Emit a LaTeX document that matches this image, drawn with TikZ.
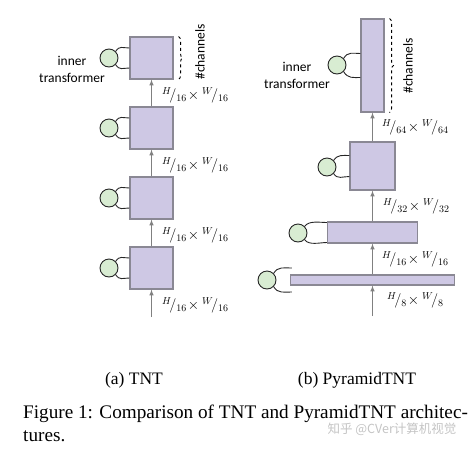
\documentclass[tikz,border=0pt]{standalone}
\usepackage{fontspec}
\setmainfont{Liberation Serif}
\newfontfamily\figsans{Carlito}
\newfontfamily\figcjk{Noto Sans CJK SC}
\usepackage{tikz}
\usetikzlibrary{arrows}
\usetikzlibrary{decorations.pathreplacing}
\usepackage{color}
\definecolor{blk-fill}{RGB}{206,200,228}
\definecolor{blk-edge}{RGB}{138,136,148}
\definecolor{itf-fill}{RGB}{216,236,210}
\definecolor{flow-gray}{RGB}{128,128,128}
\definecolor{mark-gray}{RGB}{196,196,196}
\newcommand{\reslabel}[1]{${}^{H}\!/_{#1}\!\times{}^{W}\!/_{#1}$}

\begin{document}
\begin{tikzpicture}[x=1pt, y=-1pt,
    blk/.style={draw=blk-edge, fill=blk-fill, line width=1.1pt, inner sep=0pt},
    itf/.style={draw=black!85, fill=itf-fill, circle, line width=0.9pt, minimum size=18pt, inner sep=0pt},
    loopline/.style={draw=black!85, line width=0.9pt},
    flow/.style={->, >=latex, draw=flow-gray, line width=1pt},
    dim/.style={anchor=west, inner sep=0pt, font=\fontsize{14}{16}\selectfont},
    itftext/.style={align=center, inner sep=0pt, font=\figsans\fontsize{13.5}{17}\selectfont},
    chbrace/.style={draw=black, dashed, line width=0.9pt, decorate, decoration={brace, amplitude=4pt}},
    chtext/.style={rotate=90, inner sep=0pt, font=\figsans\fontsize{13.5}{15}\selectfont},
    subcap/.style={inner sep=0pt, font=\fontsize{17.5}{20}\selectfont}]
    \useasboundingbox (0,0) rectangle (474,448);

    % (a) TNT
    \node[blk, minimum width=43, minimum height=42] (tnt1) at (151.5, 58) {};
    \node[blk, minimum width=43, minimum height=42] (tnt2) at (151.5, 128) {};
    \node[blk, minimum width=43, minimum height=42] (tnt3) at (151.5, 198) {};
    \node[blk, minimum width=43, minimum height=42] (tnt4) at (151.5, 268) {};
    \coordinate (tnt_in) at (151.5, 317);

    \node[itf] (itf_tnt1) at (109, 58) {};
    \node[itf] (itf_tnt2) at (109, 128) {};
    \node[itf] (itf_tnt3) at (109, 198) {};
    \node[itf] (itf_tnt4) at (109, 268) {};

    \node[itftext] (itf_tnt_txt) at (72, 69.5) {inner\\transformer};

    \node[dim] (res_tnt1) at (162, 95) {\reslabel{16}};
    \node[dim] (res_tnt2) at (162, 165) {\reslabel{16}};
    \node[dim] (res_tnt3) at (162, 235) {\reslabel{16}};
    \node[dim] (res_tnt4) at (162, 305) {\reslabel{16}};

    \draw[chbrace] ([xshift=5pt]tnt1.north east) -- ([xshift=5pt]tnt1.south east);
    \node[chtext] (ch_tnt) at (200, 52) {\#channels};

    % (b) PyramidTNT
    \node[blk, minimum width=23, minimum height=93] (pyr1) at (372.5, 65.5) {};
    \node[blk, minimum width=45, minimum height=48] (pyr2) at (372.5, 166) {};
    \node[blk, minimum width=90, minimum height=21] (pyr3) at (372.5, 232.5) {};
    \node[blk, minimum width=164, minimum height=10] (pyr4) at (372.5, 280) {};
    \coordinate (pyr_in) at (372.5, 316);

    \node[itf] (itf_pyr1) at (337, 65) {};
    \node[itf] (itf_pyr2) at (327, 167) {};
    \node[itf] (itf_pyr3) at (298, 233) {};
    \node[itf] (itf_pyr4) at (267, 280) {};

    \node[itftext] (itf_pyr_txt) at (297, 75.5) {inner\\transformer};

    \node[dim] (res_pyr1) at (382, 127) {\reslabel{64}};
    \node[dim] (res_pyr2) at (383, 206) {\reslabel{32}};
    \node[dim] (res_pyr3) at (382, 259) {\reslabel{16}};
    \node[dim] (res_pyr4) at (387, 300) {\reslabel{8}};

    \draw[chbrace] ([xshift=5pt]pyr1.north east) -- ([xshift=5pt]pyr1.south east);
    \node[chtext] (ch_pyr) at (408, 66) {\#channels};

    \draw[flow] (tnt_in) -- (tnt4);
    \draw[flow] (tnt4) -- (tnt3);
    \draw[flow] (tnt3) -- (tnt2);
    \draw[flow] (tnt2) -- (tnt1);

    \draw[flow] (pyr_in) -- (pyr4);
    \draw[flow] (pyr4) -- (pyr3);
    \draw[flow] (pyr3) -- (pyr2);
    \draw[flow] (pyr2) -- (pyr1);

    \draw[loopline] (itf_tnt1.45)  .. controls +(4,-6) and +(-7,0) .. ([yshift=10pt]tnt1.west);
    \draw[loopline] (itf_tnt1.-45) .. controls +(4,6)  and +(-7,0) .. ([yshift=-10pt]tnt1.west);
    \draw[loopline] (itf_tnt2.45)  .. controls +(4,-6) and +(-7,0) .. ([yshift=10pt]tnt2.west);
    \draw[loopline] (itf_tnt2.-45) .. controls +(4,6)  and +(-7,0) .. ([yshift=-10pt]tnt2.west);
    \draw[loopline] (itf_tnt3.45)  .. controls +(4,-6) and +(-7,0) .. ([yshift=10pt]tnt3.west);
    \draw[loopline] (itf_tnt3.-45) .. controls +(4,6)  and +(-7,0) .. ([yshift=-10pt]tnt3.west);
    \draw[loopline] (itf_tnt4.45)  .. controls +(4,-6) and +(-7,0) .. ([yshift=10pt]tnt4.west);
    \draw[loopline] (itf_tnt4.-45) .. controls +(4,6)  and +(-7,0) .. ([yshift=-10pt]tnt4.west);

    \draw[loopline] (itf_pyr1.45)  .. controls +(4,-7) and +(-7,0) .. ([yshift=12pt]pyr1.west);
    \draw[loopline] (itf_pyr1.-45) .. controls +(4,7)  and +(-7,0) .. ([yshift=-12pt]pyr1.west);
    \draw[loopline] (itf_pyr2.45)  .. controls +(4,-6) and +(-7,0) .. ([yshift=10.5pt]pyr2.west);
    \draw[loopline] (itf_pyr2.-45) .. controls +(4,6)  and +(-7,0) .. ([yshift=-10.5pt]pyr2.west);
    \draw[loopline] (itf_pyr3.45)  .. controls +(4,-6) and +(-7,0) .. ([yshift=10pt]pyr3.west);
    \draw[loopline] (itf_pyr3.-45) .. controls +(4,6)  and +(-7,0) .. ([yshift=-10pt]pyr3.west);
    \draw[loopline] (itf_pyr4.45)  .. controls +(4,-7) and +(-8,0) .. ([xshift=2pt, yshift=12pt]pyr4.west);
    \draw[loopline] (itf_pyr4.-45) .. controls +(4,7)  and +(-8,0) .. ([xshift=2pt, yshift=-12pt]pyr4.west);

    % captions
    \node[subcap] (cap_tnt) at (134, 380) {(a) TNT};
    \node[subcap] (cap_pyr) at (357, 380) {(b) PyramidTNT};
    \node[anchor=west, align=left, inner sep=0pt, font=\fontsize{19.2}{23}\selectfont] (cap_fig) at (23, 423.5) {Figure 1: Comparison of TNT and PyramidTNT architec-\\tures.};
    \node[text=mark-gray, inner sep=0pt, font=\figcjk\fontsize{12.5}{14}\selectfont] (wmark) at (392, 429) {知乎 @CVer计算机视觉};
\end{tikzpicture}
\end{document}
